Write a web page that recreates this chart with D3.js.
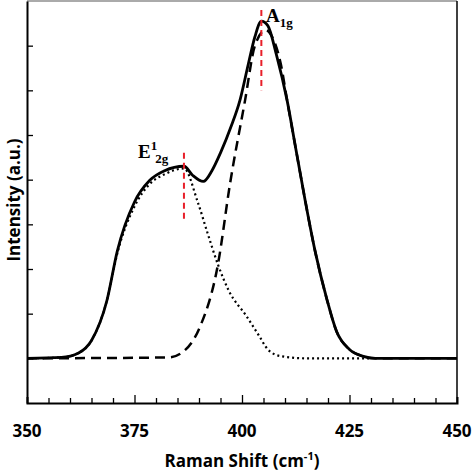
<!DOCTYPE html><html><head><script src="https://cdn.jsdelivr.net/npm/d3@7"></script>
<style>body{margin:0;background:#fff}</style></head><body><svg id="c" width="474" height="476"></svg>
<script>
const baseline=1;
const totalX=[350,358,362,365,368.6,371,375,378.5,382,386.5,388.5,391,393,395,397.5,399.5,401.5,403,404.5,406,408,410.5,412.5,414.7,417,419.8,422,425,428,431,450];
const totalY=[0,0.02,0.12,0.4,1.3,2.4,3.5,3.98,4.2,4.3,4.1,3.96,4.2,4.6,5.2,5.77,6.6,7.2,7.55,7.45,6.8,5.77,4.7,3.53,2.4,1.3,0.6,0.2,0.05,0,0];
const eX=[350,358,362,365,368.6,371,375,378.5,382,386.5,389.7,392,394.4,397,401,404,406,409,415,430];
const eY=[0,0.02,0.12,0.4,1.3,2.35,3.4,3.9,4.12,4.25,3.5,2.8,2.1,1.5,0.95,0.5,0.2,0.05,0,0];
const aX=[350,383,386.7,390.2,394.4,397.2,400.7,403,405.5,407,409,410.5,412.5,414.7,417,419.8,422,425,428,431,450];
const aY=[0,0.02,0.18,0.7,2.1,3.9,5.77,7.0,7.35,7.2,6.6,5.77,4.7,3.53,2.4,1.3,0.6,0.2,0.05,0,0];
const xTicks=[350,375,400,425,450];
const yTicks=[1,2,3,4,5,6,7,8];
const peaks=[{x:386.5,y1:5.6,y2:4.1},{x:404.5,y1:8.8,y2:7.0}];
const svg=d3.select("#c");
const x=d3.scaleLinear().domain([350,450]).range([27,457]);
const y=d3.scaleLinear().domain([0,9]).range([403,1]);
svg.append("line").attr("x1",27).attr("x2",457).attr("y1",1).attr("y2",1).attr("stroke","#aaa").attr("stroke-width",2);
const line=(xs,ys)=>d3.line().curve(d3.curveMonotoneX).x((d,i)=>x(xs[i])).y(d=>y(d+baseline))(ys);
svg.append("path").attr("d",line(eX,eY)).attr("fill","none").attr("stroke","#000").attr("stroke-width",2.2).attr("stroke-dasharray","2,3");
svg.append("path").attr("d",line(aX,aY)).attr("fill","none").attr("stroke","#000").attr("stroke-width",2.5).attr("stroke-dasharray","10,6");
svg.append("path").attr("d",line(totalX,totalY)).attr("fill","none").attr("stroke","#000").attr("stroke-width",2.8);
const xa=svg.append("g").attr("transform","translate(0,403)").call(d3.axisBottom(x).tickValues(d3.range(355,450,5)).tickSize(-6).tickFormat(""));
xa.selectAll(".tick line").attr("y2",d=>d%25===0?-8:-5).attr("stroke-width",1.3);
xa.select(".domain").attr("stroke-width",2);
xa.append("g").selectAll("text").data(xTicks).join("text").attr("x",d=>x(d)).attr("y",34).attr("text-anchor","middle")
 .attr("font-family","Open Sans").attr("font-weight","bold").attr("font-size",17).attr("fill","#000").text(d=>d);
const ya=svg.append("g").attr("transform","translate(27,0)").call(d3.axisLeft(y).tickValues(yTicks).tickSize(-6).tickFormat("").tickSizeOuter(0));
ya.select(".domain").attr("stroke-width",2);ya.selectAll(".tick line").attr("stroke-width",1.3);
svg.append("line").attr("x1",457).attr("x2",457).attr("y1",1).attr("y2",403).attr("stroke","#000").attr("stroke-width",1.5);
svg.append("text").attr("x",242).attr("y",467).attr("text-anchor","middle").attr("font-family","Open Sans").attr("font-weight","bold").attr("font-size",17)
 .html('Raman Shift (cm<tspan dy="-7" font-size="11">-1</tspan><tspan dy="7">)</tspan>');
svg.append("text").attr("transform","translate(20,200) rotate(-90)").attr("text-anchor","middle").attr("font-family","Open Sans").attr("font-weight","bold").attr("font-size",17).text("Intensity (a.u.)");
peaks.forEach(p=>{
 svg.append("line").attr("x1",x(p.x)).attr("x2",x(p.x)).attr("y1",y(p.y1)).attr("y2",y(p.y2)).attr("stroke","#e8202a").attr("stroke-width",2).attr("stroke-dasharray","6,4");
});
svg.append("text").attr("x",138).attr("y",158).attr("font-family","Liberation Serif").attr("font-weight","bold").attr("font-size",19)
 .html('E<tspan dy="-8" font-size="13">1</tspan><tspan dy="13" dx="-2" font-size="13">2g</tspan>');
svg.append("text").attr("x",266).attr("y",22).attr("font-family","Liberation Serif").attr("font-weight","bold").attr("font-size",19)
 .html('A<tspan dy="5" font-size="13">1g</tspan>');
</script></body></html>
